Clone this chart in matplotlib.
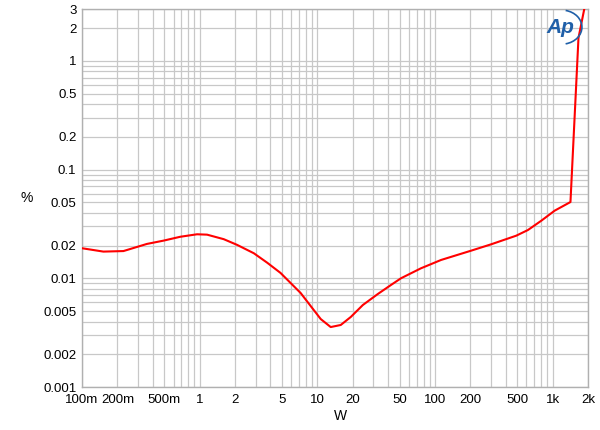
import matplotlib
matplotlib.use("Agg")
import matplotlib.pyplot as plt
from matplotlib.ticker import FixedLocator, LogLocator, NullFormatter
from matplotlib.patches import Arc

power_w = [0.1, 0.152, 0.225, 0.356, 0.493, 0.685, 0.95, 1.156, 1.602, 2.08,
           2.887, 3.755, 4.87, 7.22, 10.69, 13.0, 15.83, 19.27, 24.4, 32.7,
           42.3, 51.4, 76.1, 112.7, 203, 300.9, 491, 618, 803, 1042, 1419,
           1660, 1867, 1950]
thdn_pct = [0.0189, 0.0176, 0.0178, 0.0207, 0.0222, 0.0241, 0.0254, 0.0252,
            0.0229, 0.0203, 0.0170, 0.0139, 0.0112, 0.00732, 0.00422, 0.00356,
            0.00372, 0.00441, 0.00568, 0.00717, 0.00868, 0.0100, 0.01236,
            0.01474, 0.01795, 0.02055, 0.02466, 0.02782, 0.0339, 0.0419,
            0.0503, 1.625, 3.07, 4.0]

x_ticks = [0.1, 0.2, 0.5, 1, 2, 5, 10, 20, 50, 100, 200, 500, 1000, 2000]
x_labels = ["100m", "200m", "500m", "1", "2", "5", "10", "20", "50", "100",
            "200", "500", "1k", "2k"]
y_ticks = [0.001, 0.002, 0.005, 0.01, 0.02, 0.05, 0.1, 0.2, 0.5, 1, 2, 3]
y_labels = ["0.001", "0.002", "0.005", "0.01", "0.02", "0.05", "0.1", "0.2",
            "0.5", "1", "2", "3"]

plt.rcParams['font.family'] = ['Liberation Sans', 'DejaVu Sans']

fig = plt.figure(figsize=(6, 4.3), dpi=100)
ax = fig.add_axes([82/600, 1 - 387/430, (588-82)/600, (387-9)/430])

ax.plot(power_w, thdn_pct, color='#ff0000', lw=1.5, zorder=3)
ax.set_xscale('log')
ax.set_yscale('log')
ax.set_xlim(0.1, 2000)
ax.set_ylim(0.001, 3)

ax.xaxis.set_major_locator(FixedLocator(x_ticks))
ax.set_xticklabels(x_labels)
ax.yaxis.set_major_locator(FixedLocator(y_ticks))
ax.set_yticklabels(y_labels)
ax.xaxis.set_minor_locator(LogLocator(base=10, subs=range(1, 10), numticks=50))
ax.yaxis.set_minor_locator(LogLocator(base=10, subs=range(1, 10), numticks=50))
ax.xaxis.set_minor_formatter(NullFormatter())
ax.yaxis.set_minor_formatter(NullFormatter())

ax.grid(True, which='both', color='#c8c8c8', lw=0.9)
ax.tick_params(which='both', length=0, labelsize=9.5, colors='black')
ax.tick_params(axis='x', pad=5)
ax.tick_params(axis='y', pad=4)
for s in ax.spines.values():
    s.set_color('#b0b0b0')
    s.set_linewidth(1.0)

ax.set_xlabel("W", fontsize=10, va='center')
ax.xaxis.set_label_coords((340 - 82) / 506, -(416 - 387) / 378)
ax.set_ylabel("%", fontsize=10, rotation=0, va='center', ha='center')
ax.yaxis.set_label_coords((27 - 82) / 506, (387 - 198) / 378)

# Ap logo
ax.text(0.946, 0.952, "Ap", transform=ax.transAxes, color='#1f5fa8',
        fontsize=15, fontstyle='italic', fontweight='bold',
        ha='center', va='center', zorder=4)
ax.add_patch(Arc((0.948, 0.952), 0.08, 0.09, angle=0, theta1=-80, theta2=80,
                 transform=ax.transAxes, color='#1f5fa8', lw=1.2, zorder=4))

fig.savefig("out.png", dpi=100)
